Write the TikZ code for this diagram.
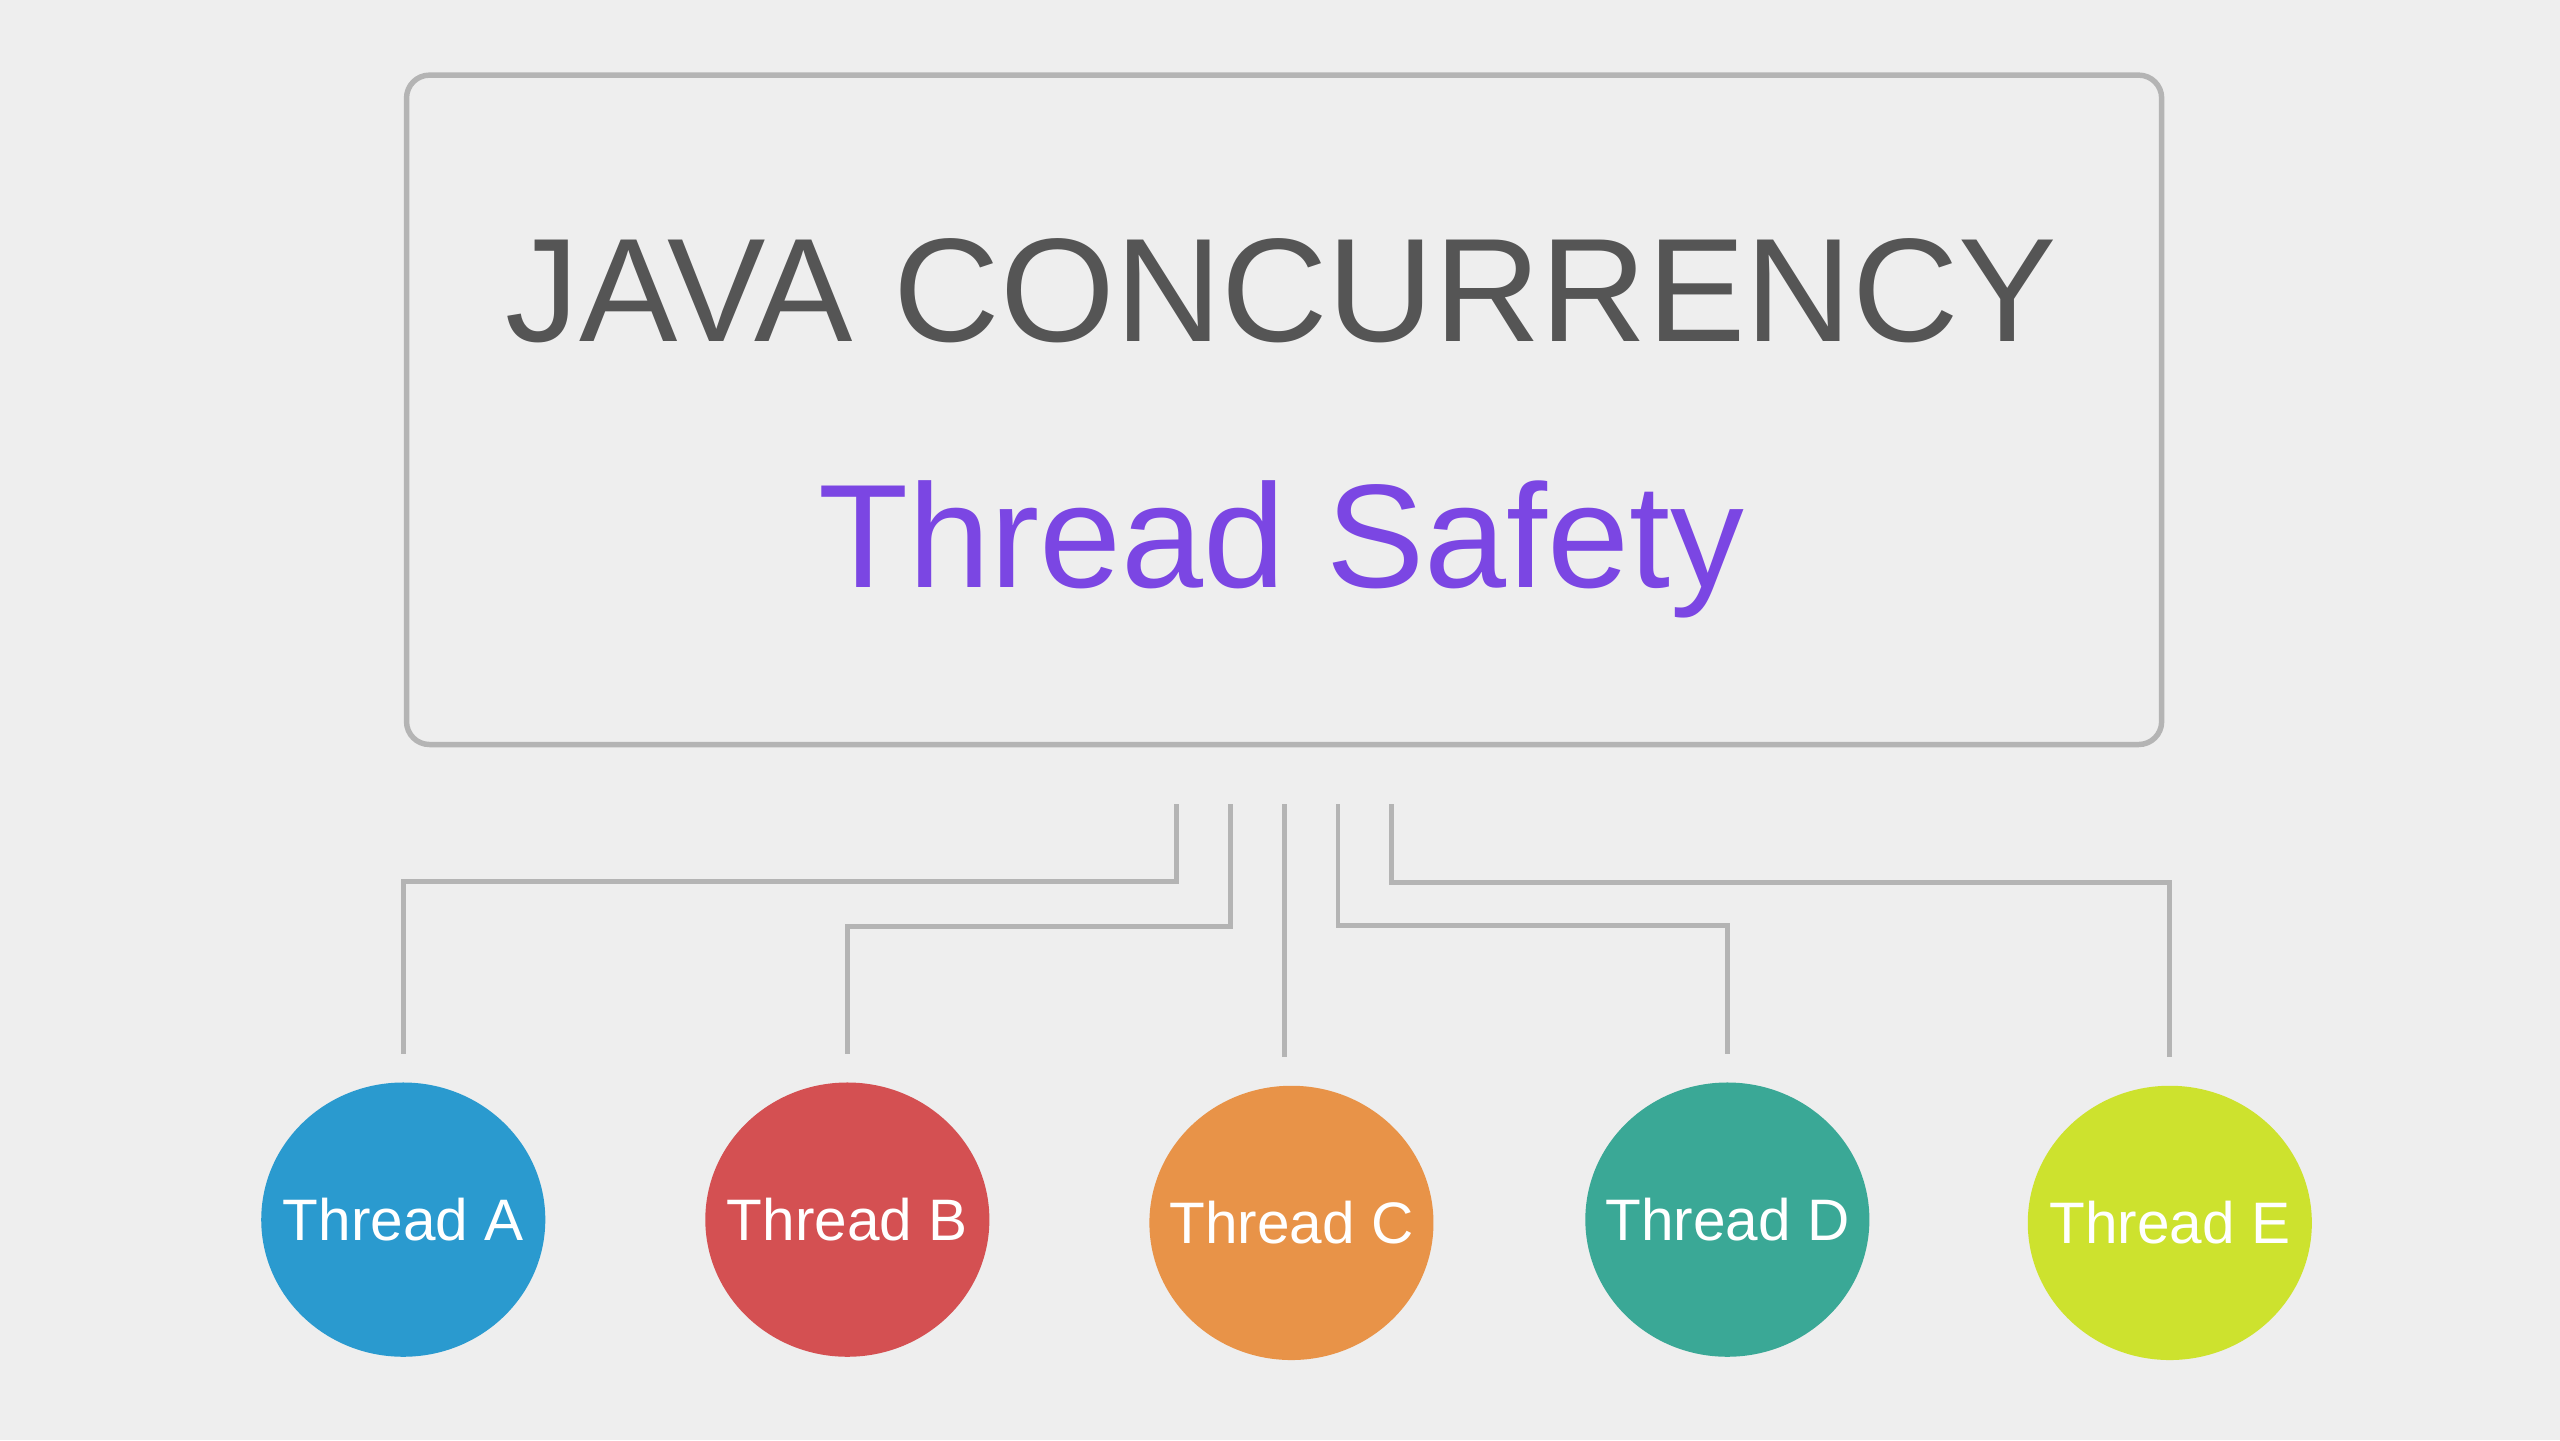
\documentclass[tikz,border=0pt]{standalone}
\usepackage{fontspec}
\setmainfont{Liberation Sans}
\usepackage{tikz}
\usetikzlibrary{shapes.geometric, positioning, calc}
\definecolor{bgGray}{HTML}{EEEEEE}
\definecolor{lineGray}{HTML}{B4B4B4}
\definecolor{titleGray}{HTML}{555555}
\definecolor{safetyPurple}{HTML}{7B46E3}
\definecolor{threadA}{HTML}{2A9ACF}
\definecolor{threadB}{HTML}{D45052}
\definecolor{threadC}{HTML}{E89348}
\definecolor{threadD}{HTML}{3AA896}
\definecolor{threadE}{HTML}{CDE22E}

\begin{document}
\begin{tikzpicture}[
  frame/.style={draw=lineGray, line width=0.95pt, rounded corners=4pt,
    minimum width=10.75cm, minimum height=4.1cm},
  headline/.style={anchor=base, inner sep=0pt, font=\fontsize{25.7}{30}\selectfont},
  thread/.style={ellipse, minimum width=1.74cm, minimum height=1.68cm, inner sep=0pt,
    text=white, font=\fontsize{10.2}{12}\selectfont},
  link/.style={draw=lineGray, line width=0.85pt, shorten >=0.17cm}
]
  % Background
  \fill[bgGray] (0,0) rectangle (15.68,-8.82);
  \useasboundingbox (0,0) rectangle (15.68,-8.82);

  % Nodes
  \node[frame] (box) at (7.865,-2.51) {};
  \node[headline, text=titleGray] (title) at (7.85,-2.09) {JAVA CONCURRENCY};
  \node[headline, text=safetyPurple] (topic) at (7.85,-3.60) {Thread Safety};

  \node[thread, fill=threadA] (ta) at (2.47,-7.47) {\makebox[0pt]{Thread A}};
  \node[thread, fill=threadB] (tb) at (5.19,-7.47) {\makebox[0pt]{Thread B}};
  \node[thread, fill=threadC] (tc) at (7.91,-7.49) {\makebox[0pt]{Thread C}};
  \node[thread, fill=threadD] (td) at (10.58,-7.47) {\makebox[0pt]{Thread D}};
  \node[thread, fill=threadE] (te) at (13.29,-7.49) {\makebox[0pt]{Thread E}};

  % Connectors
  \foreach \i/\dx in {a/-0.66, b/-0.33, c/0, d/0.33, e/0.66}
    \coordinate (p\i) at ($(box.south)+(\dx,-0.35)$);

  \draw[link] (pa) -- ++(0,-0.47) -| (ta.north);
  \draw[link] (pb) -- ++(0,-0.75) -| (tb.north);
  \draw[link] (pc) -- (pc |- tc.north);
  \draw[link] (pd) -- ++(0,-0.74) -| (td.north);
  \draw[link] (pe) -- ++(0,-0.48) -| (te.north);
\end{tikzpicture}
\end{document}
